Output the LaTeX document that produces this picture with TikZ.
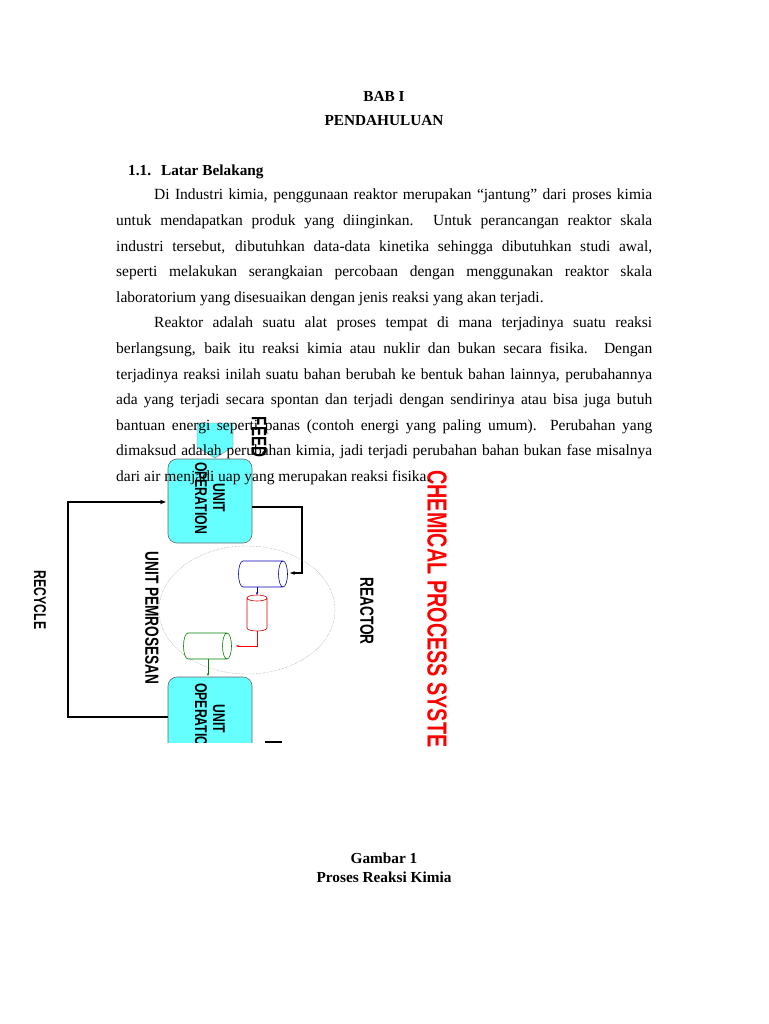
\documentclass[tikz,border=0pt]{standalone}
\usepackage{fontspec}
\setmainfont{Liberation Serif}
\setsansfont{Liberation Sans}
\newfontfamily\narrowsans{Liberation Sans}[FakeStretch=0.72]
\definecolor{aqua}{RGB}{102,255,255}
\usetikzlibrary{arrows.meta,shapes.geometric}
\begin{document}
\begin{tikzpicture}[x=1pt,y=-1pt,
  body/.style={anchor=north west,text width=536pt,align=justify,inner sep=0pt,font=\fontsize{15.5}{25.6}\selectfont},
  head/.style={font=\fontsize{15.3}{18}\selectfont\bfseries,inner sep=0pt},
  uop/.style={draw=black!60,fill=aqua,rounded corners=9pt,line width=0.6pt},
  lbl/.style={font=\fontsize{19}{19}\selectfont\narrowsans\bfseries,rotate=-90,inner sep=0pt},
  flow/.style={line width=2pt,-{Stealth[length=6pt]}}]
\useasboundingbox (0,0) rectangle (768,1024);
\fill[white] (0,0) rectangle (768,1024);
\node[head] (bab) at (384,96) {BAB I};
\node[head] (pend) at (384,121) {PENDAHULUAN};
\node[head,anchor=west] (sub) at (128,172) {1.1.\hspace{10pt}Latar Belakang};
% diagram
\draw[uop] (168,459) rectangle (252,543);
\node (uo1) at (210,501) {};
\begin{scope}
\clip (160,670) rectangle (260,742);
\draw[uop] (168,677) rectangle (252,760);
\node[lbl,align=center,font=\fontsize{17}{18}\selectfont\narrowsans\bfseries,anchor=west] at (210,683) {UNIT\\OPERATION};
\end{scope}
\node (uo2) at (210,710) {};
\fill[aqua,draw=black!50,line width=0.4pt] (197,423) -- (233,423) -- (233,447) -- (215,458) -- (197,447) -- cycle;
\node[lbl,font=\fontsize{21}{21}\selectfont\narrowsans\bfseries] (feed) at (259,437) {FEED};
\node[lbl,align=center,font=\fontsize{17}{18}\selectfont\narrowsans\bfseries] at (210,498) {UNIT\\OPERATION};
\coordinate (rl) at (68,717);
\coordinate (rt) at (68,502);
\draw[flow] (168,717) -- (rl) -- (rt) -- (166,502);
\draw[line width=2pt,-{Stealth[length=5pt]}] (252,507) -- (302,507) -- (302,573) -- (290,573);
\draw[densely dotted,gray] (247,610) ellipse (88 and 64);
\node[lbl,font=\fontsize{17}{17}\selectfont\narrowsans\bfseries] at (40,600) {RECYCLE};
\node[lbl] at (152,618) {UNIT PEMROSESAN};
\node[lbl] at (367,611) {REACTOR};
\node[lbl,text=red,font=\fontsize{27.5}{28}\selectfont\narrowsans\bfseries,anchor=west] at (437,470) {CHEMICAL PROCESS SYSTE};
% cylinders
\begin{scope}[line width=0.6pt]
\draw[blue!70!black] (243,561) -- (283,561) (243,587) -- (283,587)
  (243,561) arc[start angle=90,end angle=270,x radius=4.5pt,y radius=13pt]
  (283,574) ellipse[x radius=4.5pt,y radius=13pt];
\draw[red!80!black] (247,598) -- (247,628) (267,598) -- (267,628)
  (257,598) ellipse[x radius=10pt,y radius=3pt]
  (247,628) arc[start angle=180,end angle=360,x radius=10pt,y radius=3pt];
\draw[green!50!black] (188,633) -- (227,633) (188,659) -- (227,659)
  (188,633) arc[start angle=90,end angle=270,x radius=4.5pt,y radius=13pt]
  (227,646) ellipse[x radius=4.5pt,y radius=13pt];
\end{scope}
\draw[blue!70!black,-{Stealth[length=3pt]}] (257,587) -- (257,595);
\draw[red,-{Stealth[length=3pt]}] (257,631) -- (257,646) -- (236,646);
\draw[green!50!black,-{Stealth[length=3pt]}] (208,659) -- (208,676);
\draw[line width=2pt] (265,742) -- (282,742);
\node[body] (p1) at (116,189) {\hspace*{38pt}Di Industri kimia, penggunaan reaktor merupakan “jantung” dari proses kimia\linebreak untuk mendapatkan produk yang diinginkan. Untuk perancangan reaktor skala\linebreak industri tersebut, dibutuhkan data-data kinetika sehingga dibutuhkan studi awal,\linebreak seperti melakukan serangkaian percobaan dengan menggunakan reaktor skala\linebreak laboratorium yang disesuaikan dengan jenis reaksi yang akan terjadi.\par
\hspace*{38pt}Reaktor adalah suatu alat proses tempat di mana terjadinya suatu reaksi\linebreak berlangsung, baik itu reaksi kimia atau nuklir dan bukan secara fisika. Dengan\linebreak terjadinya reaksi inilah suatu bahan berubah ke bentuk bahan lainnya, perubahannya\linebreak ada yang terjadi secara spontan dan terjadi dengan sendirinya atau bisa juga butuh\linebreak bantuan energi seperti panas (contoh energi yang paling umum). Perubahan yang\linebreak dimaksud adalah perubahan kimia, jadi terjadi perubahan bahan bukan fase misalnya\linebreak dari air menjadi uap yang merupakan reaksi fisika.};
\node[head] (g1) at (384,858) {Gambar 1};
\node[head] (g2) at (384,877) {Proses Reaksi Kimia};
\end{tikzpicture}
\end{document}
